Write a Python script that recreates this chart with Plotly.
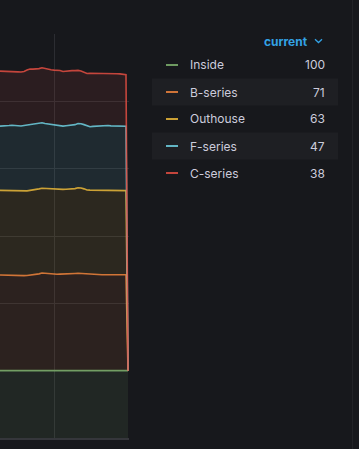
import plotly.graph_objects as go

# ---------------- data ----------------
x_idx = list(range(43)) + [42.67]
names = ["Inside", "B-series", "Outhouse", "F-series", "C-series"]
colors = ["#7EB26D", "#EF843C", "#EAB839", "#6ED0E0", "#E24D42"]
current = [100, 71, 63, 47, 38]

inside = [100] * 44
b_series = [71.0, 70.9, 70.9, 70.8, 70.7, 70.6, 70.6, 70.5, 70.6, 70.7, 70.9, 71.0, 71.4, 71.9,
            72.5, 72.3, 72.0, 71.7, 71.5, 71.6, 71.7, 71.7, 71.7, 71.9, 72.0, 72.2, 72.3, 72.1,
            71.9, 71.7, 71.5, 71.4, 71.3, 71.2, 71.2, 71.2, 71.2, 71.2, 71.2, 71.2, 71.2, 71.2,
            71.2, 0]
outhouse = [62.9, 62.9, 62.9, 62.9, 62.9, 62.8, 62.8, 62.7, 62.7, 62.8, 63.0, 63.1, 63.1, 63.1,
            63.0, 63.0, 63.2, 63.3, 63.3, 63.1, 63.0, 62.9, 63.0, 63.0, 62.8, 63.0, 63.5, 63.6,
            63.1, 62.5, 62.6, 62.7, 62.8, 62.9, 62.9, 62.9, 62.9, 62.9, 62.8, 62.7, 62.6, 62.5,
            62.5, 0]
f_series = [47.7, 47.8, 48.0, 48.3, 48.6, 48.6, 48.4, 48.5, 48.8, 48.9, 48.9, 49.0, 49.0, 48.7,
            48.6, 48.3, 48.0, 47.9, 47.9, 47.7, 47.4, 47.0, 47.2, 47.2, 47.3, 47.5, 47.7, 47.7,
            47.7, 47.4, 47.0, 47.3, 47.5, 47.7, 47.7, 47.7, 47.9, 47.7, 47.8, 47.8, 47.8, 47.7,
            47.8, 0]
c_series = [40.8, 40.8, 40.5, 40.2, 39.9, 39.9, 40.1, 40.1, 40.1, 40.8, 41.2, 40.8, 40.5, 40.6,
            40.8, 40.7, 40.5, 40.6, 40.5, 40.8, 40.8, 40.6, 40.6, 40.6, 40.7, 40.1, 39.5, 39.1,
            39.0, 39.1, 39.7, 39.4, 39.4, 39.1, 39.1, 38.9, 39.0, 38.9, 38.8, 38.8, 38.8, 38.8,
            38.3, 0]
series = [inside, b_series, outhouse, f_series, c_series]

# ---------------- style ----------------
BG = "#17181c"
TEXT = "#ccccdc"
W, H = 359, 449
M_L, M_R, M_T, M_B = 0, 230, 34, 11
PW = W - M_L - M_R
PH = H - M_T - M_B


def px(x):
    return (x - M_L) / PW


def py(y):
    return (H - M_B - y) / PH


def rgba(hexc, a):
    h = hexc.lstrip("#")
    r, g, b = int(h[0:2], 16), int(h[2:4], 16), int(h[4:6], 16)
    return f"rgba({r},{g},{b},{a})"


fig = go.Figure()
for name, col, vals in zip(names, colors, series):
    fig.add_trace(go.Scatter(
        x=x_idx, y=vals, name=name, mode="lines", stackgroup="one",
        line=dict(color=rgba(col, 0.85), width=1.6), fillcolor=rgba(col, 0.1),
        hoverinfo="skip",
    ))

shapes = []
annotations = []

# legend header
annotations.append(dict(
    xref="paper", yref="paper", x=px(310), y=py(41), xanchor="right", yanchor="middle",
    text="<b>current</b>", showarrow=False,
    font=dict(family="Inter", size=12, color="#33A2E5"),
))
shapes.append(dict(
    type="path", xref="paper", yref="paper",
    path=f"M {px(315)} {py(39.2)} L {px(318.5)} {py(42.5)} L {px(322)} {py(39.2)}",
    line=dict(color="#33A2E5", width=1.3),
))

row_y0 = 65
row_h = 27
for i, (name, col, cur) in enumerate(zip(names, colors, current)):
    cy = row_y0 + i * row_h
    if i % 2 == 1:
        shapes.append(dict(
            type="rect", xref="paper", yref="paper",
            x0=px(152), x1=px(338), y0=py(cy - 13.5), y1=py(cy + 13.5),
            fillcolor="#1e1f23", line=dict(width=0), layer="below",
        ))
    shapes.append(dict(
        type="line", xref="paper", yref="paper",
        x0=px(166), x1=px(178), y0=py(cy), y1=py(cy),
        line=dict(color=rgba(col, 0.85), width=2),
    ))
    annotations.append(dict(
        xref="paper", yref="paper", x=px(188), y=py(cy), xanchor="left", yanchor="middle",
        text=name, showarrow=False, font=dict(family="Inter", size=12, color=TEXT),
    ))
    annotations.append(dict(
        xref="paper", yref="paper", x=px(327), y=py(cy), xanchor="right", yanchor="middle",
        text=str(cur), showarrow=False, font=dict(family="Inter", size=12, color=TEXT),
    ))

# divider on the right
shapes.append(dict(
    type="line", xref="paper", yref="paper",
    x0=px(352.5), x1=px(352.5), y0=py(0), y1=py(H),
    line=dict(color="#222327", width=1),
))

fig.update_layout(
    width=W, height=H,
    margin=dict(l=M_L, r=M_R, t=M_T, b=M_B, autoexpand=False),
    paper_bgcolor=BG, plot_bgcolor=BG,
    showlegend=False,
    shapes=shapes, annotations=annotations,
    xaxis=dict(range=[0, 43], tickvals=[18], showticklabels=False, ticks="",
               showgrid=True, gridcolor="#2c2d32", gridwidth=1, zeroline=False,
               showline=True, linecolor="#35363b", linewidth=2, fixedrange=True),
    yaxis=dict(range=[50, 350], dtick=50, tick0=0, showticklabels=False, ticks="",
               showgrid=True, gridcolor="#2c2d32", gridwidth=1, zeroline=False,
               showline=False, fixedrange=True),
)

fig.write_html("out.html", config={"displayModeBar": False})
